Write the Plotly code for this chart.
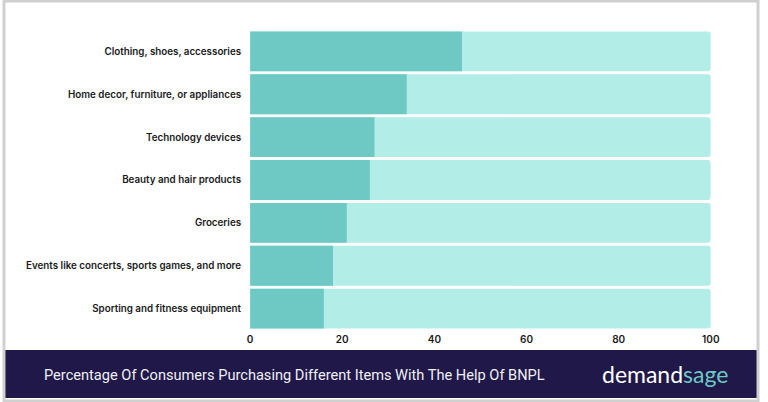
import plotly.graph_objects as go

categories = [
    "Clothing, shoes, accessories",
    "Home decor, furniture, or appliances",
    "Technology devices",
    "Beauty and hair products",
    "Groceries",
    "Events like concerts, sports games, and more",
    "Sporting and fitness equipment",
]
values = [46, 34, 27, 26, 21, 18, 16]
totals = [100] * len(categories)
tick_vals = [0, 20, 40, 60, 80, 100]
title_text = "Percentage Of Consumers Purchasing Different Items With The Help Of BNPL"

W, H = 768, 402

fig = go.Figure()
fig.add_trace(go.Bar(
    y=categories, x=totals, orientation="h",
    marker=dict(color="#b2ede8", line=dict(width=0), cornerradius=3),
    hoverinfo="skip", showlegend=False,
))
fig.add_trace(go.Bar(
    y=categories, x=values, orientation="h",
    marker=dict(color="#6ec9c4", line=dict(width=0)),
    showlegend=False,
))

fig.update_layout(
    width=W, height=H,
    margin=dict(l=0, r=0, t=0, b=0),
    paper_bgcolor="white", plot_bgcolor="white",
    barmode="overlay", bargap=0.07,
    font=dict(family="Inter, Open Sans, sans-serif", color="#222222"),
    xaxis=dict(
        domain=[251 / W, 719 / W], range=[0, 100],
        tickvals=tick_vals, showgrid=False, zeroline=False, showline=False,
        tickfont=dict(size=10, color="#1a1a1a", family="Inter, sans-serif", weight=600),
        ticks="", ticklabelstandoff=2,
    ),
    yaxis=dict(
        domain=[1 - 330 / H, 1 - 30 / H],
        categoryorder="array", categoryarray=categories[::-1],
        showgrid=False, zeroline=False, showline=False, ticks="",
        tickfont=dict(size=9.8, color="#1a1a1a", family="Inter, sans-serif", weight=600),
        ticklabelstandoff=8,
    ),
    shapes=[
        dict(type="rect", xref="paper", yref="paper",
             x0=0, x1=1, y0=1 - 398 / H, y1=1 - 350 / H,
             fillcolor="#1f1848", line=dict(width=0), layer="below"),
        dict(type="rect", xref="paper", yref="paper",
             x0=1 / W, x1=1 - 1 / W, y0=1 / H, y1=1 - 1 / H,
             line=dict(color="#d0d0d0", width=3), fillcolor="rgba(0,0,0,0)"),
    ],
    annotations=[
        dict(text=title_text, xref="paper", yref="paper",
             x=40 / W, y=1 - 375 / H, xanchor="left", yanchor="middle",
             showarrow=False,
             font=dict(family="Roboto, sans-serif", size=14.6, color="#f0f0f5")),
        dict(text="demand<span style='color:#6ec9c4'>sage</span>",
             xref="paper", yref="paper",
             x=739 / W, y=1 - 374 / H, xanchor="right", yanchor="middle",
             showarrow=False,
             font=dict(family="Lato, sans-serif", size=23, color="white")),
    ],
)

fig.write_html("out.html")
